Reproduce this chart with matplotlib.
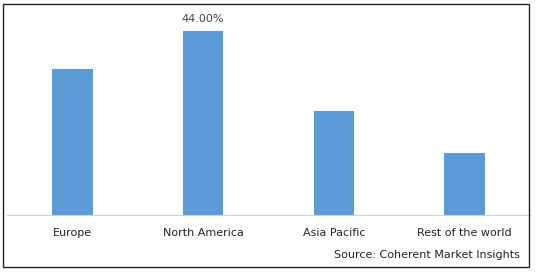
import matplotlib.pyplot as plt
from matplotlib.patches import Rectangle

# Data
regions = ['Europe', 'North America', 'Asia Pacific', 'Rest of the world']
share = [34.9, 44.0, 24.9, 14.8]
labels = ['', '44.00%', '', '']

fig = plt.figure(figsize=(5.38, 2.72), dpi=100)
plt.rcParams['font.family'] = ['DejaVu Sans']

# axes: x 7..530 px, baseline y=215, top y=10
W, H = 538, 272
ax = fig.add_axes([7 / W, (H - 215) / H, 523 / W, 205 / H])

x = range(len(regions))
bars = ax.bar(x, share, width=0.31, color='#5B9BD5')
ax.set_xlim(-0.5, len(regions) - 0.5)
ax.set_ylim(0, 49.0)

for rect, lab in zip(bars, labels):
    if lab:
        ax.annotate(lab, xy=(rect.get_x() + rect.get_width() / 2, rect.get_height()),
                    xytext=(0, 5), textcoords='offset points',
                    ha='center', va='bottom', fontsize=8, color='#404040')

ax.set_xticks(list(x))
ax.set_xticklabels(regions, fontsize=8, color='#222222')
ax.tick_params(axis='x', length=0, pad=9)
ax.set_yticks([])
for s in ['top', 'right', 'left']:
    ax.spines[s].set_visible(False)
ax.spines['bottom'].set_color('#d0d0d0')

fig.text(520 / W, 1 - 255 / H, 'Source: Coherent Market Insights',
         ha='right', va='center', fontsize=8, color='#222222')

# outer border
fig.patches.append(Rectangle((3 / W, 1 - 267 / H), 526 / W, 263 / H,
                             transform=fig.transFigure, fill=False,
                             edgecolor='#222222', linewidth=1))

plt.savefig('out.png', dpi=100)
